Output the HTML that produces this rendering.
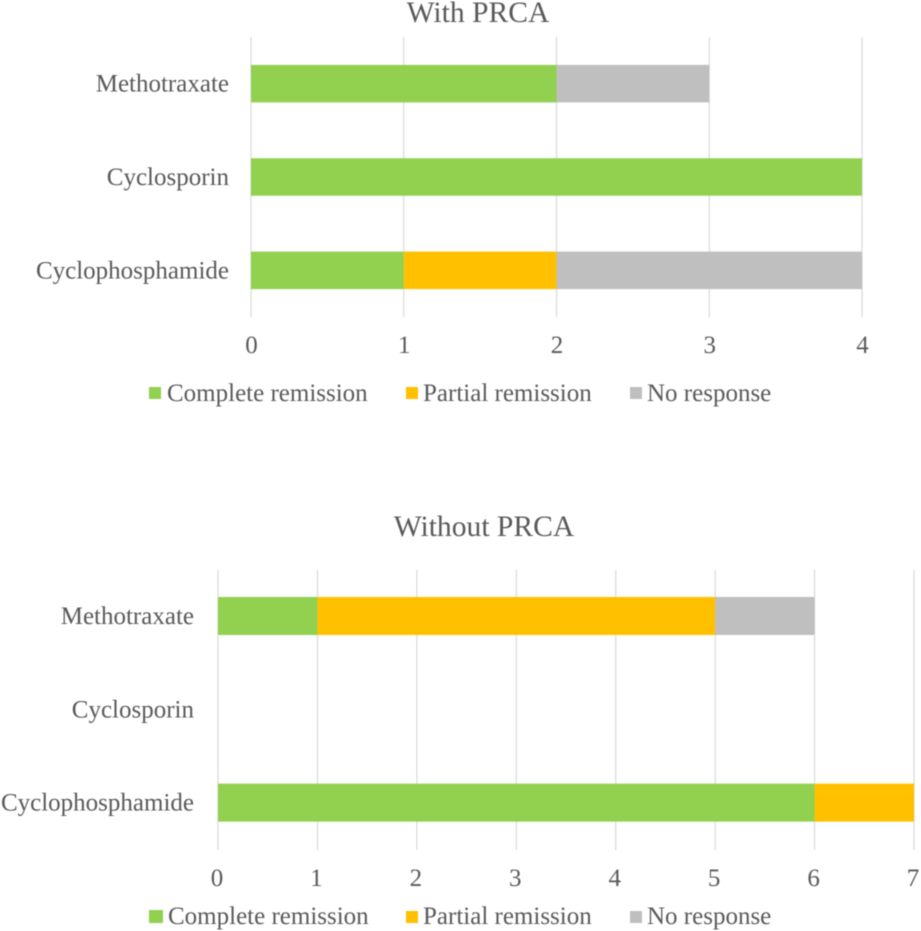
<!DOCTYPE html>
<html lang="en">
<head>
<meta charset="utf-8">
<title>Treatment response with and without PRCA</title>
<style>
  html, body { margin: 0; padding: 0; background: #fff; }
  body { width: 921px; height: 931px; overflow: hidden; }
  svg { display: block; font-family: "Liberation Serif", "Times New Roman", serif; filter: blur(0.4px); }
  text { fill: #595959; }
  .title { font-size: 29.6px; text-anchor: middle; }
  .axis { font-size: 25px; }
  .legend-text { font-size: 25px; }
</style>
</head>
<body>
<svg id="figure" width="921" height="931" viewBox="0 0 921 931" xmlns="http://www.w3.org/2000/svg">
  <g id="top-chart">
    <text class="title" x="478" y="22">With PRCA</text>
    <g id="top-plot"></g>
    <g>
      <rect x="149" y="387" width="12" height="12" fill="#92D050"/>
      <text class="legend-text" x="167" y="401">Complete remission</text>
      <rect x="406" y="387" width="12" height="12" fill="#FFC000"/>
      <text class="legend-text" x="423" y="401">Partial remission</text>
      <rect x="630" y="387" width="12" height="12" fill="#BFBFBF"/>
      <text class="legend-text" x="647" y="401">No response</text>
    </g>
  </g>
  <g id="bottom-chart">
    <text class="title" x="484" y="536">Without PRCA</text>
    <g id="bottom-plot"></g>
    <g>
      <rect x="149" y="910" width="14" height="13" fill="#92D050"/>
      <text class="legend-text" x="168" y="924">Complete remission</text>
      <rect x="406" y="911" width="12" height="12" fill="#FFC000"/>
      <text class="legend-text" x="423" y="924">Partial remission</text>
      <rect x="630" y="911" width="12" height="12" fill="#BFBFBF"/>
      <text class="legend-text" x="647" y="924">No response</text>
    </g>
  </g>
</svg>
<script>
// Categories, listed from the top row to the bottom row
const categories = ["Methotraxate", "Cyclosporin", "Cyclophosphamide"];

// With PRCA chart
const topTicks = [0, 1, 2, 3, 4];
const topComplete = [2, 4, 1];
const topPartial = [0, 0, 1];
const topNoResponse = [1, 0, 2];

// Without PRCA chart
const bottomTicks = [0, 1, 2, 3, 4, 5, 6, 7];
const bottomComplete = [1, 0, 6];
const bottomPartial = [4, 0, 1];
const bottomNoResponse = [1, 0, 0];

const SVG_NS = "http://www.w3.org/2000/svg";

function drawChart(hostId, prefix, layout, ticks, complete, partial, noResponse) {
  const host = document.getElementById(hostId);
  const maxTick = ticks[ticks.length - 1];
  const xScale = function (v) { return layout.left + (layout.right - layout.left) * v / maxTick; };
  const bandHeight = (layout.bottom - layout.top) / categories.length;
  const yScale = function (i) { return layout.top + bandHeight * (i + 0.5) + layout.barShift; };

  ticks.forEach(function (tick) {
    const line = document.createElementNS(SVG_NS, "line");
    
    
    line.setAttribute("x1", xScale(tick));
    line.setAttribute("x2", xScale(tick));
    line.setAttribute("y1", layout.top);
    line.setAttribute("y2", layout.bottom);
    line.setAttribute("stroke", "#D9D9D9");
    line.setAttribute("stroke-width", "1.2");
    host.appendChild(line);

    const label = document.createElementNS(SVG_NS, "text");
    
    
    label.setAttribute("class", "axis");
    label.setAttribute("x", xScale(tick) + layout.tickShift);
    label.setAttribute("y", layout.tickBaseline);
    label.setAttribute("text-anchor", "middle");
    label.textContent = tick;
    host.appendChild(label);
  });

  const seriesList = [
    { key: "complete", values: complete, color: "#92D050" },
    { key: "partial", values: partial, color: "#FFC000" },
    { key: "no-response", values: noResponse, color: "#BFBFBF" }
  ];

  categories.forEach(function (name, i) {
    const label = document.createElementNS(SVG_NS, "text");
    
    
    label.setAttribute("class", "axis");
    label.setAttribute("x", layout.labelRight);
    label.setAttribute("y", yScale(i) + 8);
    label.setAttribute("text-anchor", "end");
    label.textContent = name;
    host.appendChild(label);

    let running = 0;
    seriesList.forEach(function (series) {
      const value = series.values[i];
      if (value > 0) {
        const bar = document.createElementNS(SVG_NS, "rect");
        
        
        bar.setAttribute("data-series", prefix + "-" + series.key);
        bar.setAttribute("x", xScale(running));
        bar.setAttribute("y", yScale(i) - layout.barHeight / 2);
        bar.setAttribute("width", xScale(running + value) - xScale(running));
        bar.setAttribute("height", layout.barHeight);
        bar.setAttribute("fill", series.color);
        host.appendChild(bar);
      }
      running += value;
    });
  });
}

drawChart("top-plot", "with-prca",
  { left: 251, right: 862, top: 37, bottom: 317, barHeight: 37.5, barShift: 0, labelRight: 229, tickBaseline: 353, tickShift: 0.5 },
  topTicks, topComplete, topPartial, topNoResponse);

drawChart("bottom-plot", "without-prca",
  { left: 218, right: 914, top: 570, bottom: 850, barHeight: 38, barShift: -0.7, labelRight: 194, tickBaseline: 886, tickShift: -1 },
  bottomTicks, bottomComplete, bottomPartial, bottomNoResponse);
</script>
</body>
</html>
